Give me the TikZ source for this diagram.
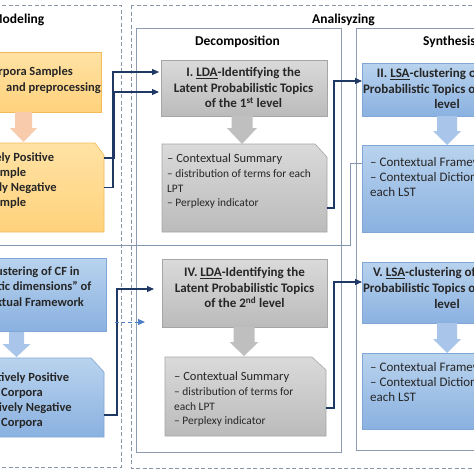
\documentclass[tikz,border=0pt]{standalone}
\usepackage{fontspec}
\setmainfont{Carlito}
\usetikzlibrary{arrows.meta}
\definecolor{navy}{HTML}{203864}
\definecolor{fbline}{HTML}{8497B0}
\definecolor{dashgray}{HTML}{8A95A5}
\definecolor{panelb}{HTML}{8C9BB0}
\definecolor{graytop}{HTML}{DADADA}
\definecolor{graybot}{HTML}{BBBBBB}
\definecolor{graybd}{HTML}{A6A6A6}
\definecolor{bluetop}{HTML}{B9D3EE}
\definecolor{bluebot}{HTML}{8AB1E0}
\definecolor{bluebd}{HTML}{7FA6D6}
\definecolor{orgtop}{HTML}{FFE2A4}
\definecolor{orgbot}{HTML}{FFD27C}
\definecolor{orgbd}{HTML}{F2BB55}
\definecolor{arrgray}{HTML}{BFBFBF}
\definecolor{arrblue}{HTML}{A9C5E9}
\definecolor{arrorg}{HTML}{F8CBAD}
\definecolor{txt}{HTML}{262626}
\definecolor{dashblue}{HTML}{4A7EC8}
% block arrow: style, cx, ytop, yneck, ytip, shaft half width, head half width
\newcommand{\blockarr}[7]{\fill[#1] (#2-#6,#3) -- (#2+#6,#3) -- (#2+#6,#4) -- (#2+#7,#4) -- (#2,#5) -- (#2-#7,#4) -- (#2-#6,#4) -- cycle;}
% document shape with cut north-east corner: style, node, cut x, cut y
\newcommand{\docshape}[4]{\path[#1] (#2.south west) -- (#2.north west) -- ([xshift=-#3pt]#2.north east) -- ([yshift=-#4pt]#2.north east) -- (#2.south east) -- cycle;}
\newcommand{\firstitem}[1]{{\fontsize{12.5}{14.7}\selectfont #1}}
\tikzset{
  frame/.style={inner sep=0pt, outer sep=0pt},
  boxg/.style={frame, draw=graybd, line width=0.6pt, top color=graytop, bottom color=graybot},
  boxb/.style={frame, draw=bluebd, line width=0.6pt, top color=bluetop, bottom color=bluebot},
  boxo/.style={frame, draw=orgbd, line width=0.6pt, top color=orgtop, bottom color=orgbot},
  fillg/.style={draw=graybd, line width=0.6pt, top color=graytop, bottom color=graybot},
  fillb/.style={draw=bluebd, line width=0.6pt, top color=bluetop, bottom color=bluebot},
  fillo/.style={draw=orgbd, line width=0.6pt, top color=orgtop, bottom color=orgbot},
  head/.style={inner sep=0pt, text=txt, align=center, font=\fontsize{13}{15.6}\selectfont\bfseries},
  modtxt/.style={inner sep=0pt, text=txt, align=center, font=\fontsize{12.5}{15.2}\selectfont\bfseries},
  listtxt/.style={inner sep=0pt, text=txt, align=left, font=\fontsize{11.4}{14.7}\selectfont},
  synlist/.style={inner sep=0pt, text=txt, align=left, font=\fontsize{13}{14.7}\selectfont},
  paneltitle/.style={inner sep=0pt, text=black, font=\fontsize{13.5}{16}\selectfont\bfseries},
  outerpanel/.style={draw=dashgray, line width=0.9pt, dash pattern=on 4pt off 2.5pt},
  innerpanel/.style={draw=panelb, line width=0.9pt},
  navyline/.style={draw=navy, line width=1.1pt, -{Triangle[length=7pt,width=6pt]}},
  fb/.style={draw=fbline, line width=0.8pt},
  dashedarrow/.style={draw=dashblue, line width=1pt, dash pattern=on 3.5pt off 3pt, -{Triangle[length=7pt,width=6pt]}}
}
\begin{document}
\begin{tikzpicture}[x=1pt,y=-1pt]
\useasboundingbox (0,0) rectangle (474,474);
\clip (0,0) rectangle (474,474);
\fill[white] (0,0) rectangle (474,474);

% panels
\draw[outerpanel] (-10,5) rectangle (121,467);
\draw[outerpanel] (131,5) rectangle (495,468);
\draw[innerpanel] (136,28) rectangle (341,452);
\draw[innerpanel] (356,28) rectangle (495,450);
\node[paneltitle, anchor=east] (tmod) at (44.5,20) {Modeling};
\node[paneltitle] (tana) at (343.5,20) {Analisyzing};
\node[paneltitle] (tdec) at (237.5,42) {Decomposition};
\node[paneltitle, anchor=west] (tsyn) at (423,42) {Synthesis};

% feedback line
\node[frame, minimum width=138pt, minimum height=87pt] (o2) at (431,188.5) {};
\coordinate (fbend) at (-10,245);
\draw[fb] ([yshift=25.5pt]o2.west) -- ++(-12,0) |- (fbend);

% Modeling column
\node[boxo, minimum width=121pt, minimum height=60pt] (bA) at (40.5,82) {};
\node[modtxt, anchor=east] (tA1) at (73,72) {Corpora Samples};
\node[modtxt, anchor=west] (tA2) at (6,88) {and preprocessing};
\blockarr{arrorg}{23.5}{112}{128}{142}{8.5}{13.5}
\node[frame, minimum width=124pt, minimum height=89pt] (od) at (42,187.5) {};
\docshape{fillo}{od}{9}{12}
\node[modtxt] (tod) at (7,180.5) {Relatively Positive\\Sample\\Relatively Negative\\Sample};

\node[boxb, minimum width=126pt, minimum height=73pt] (bIII) at (43,294.5) {};
\node[modtxt, font=\fontsize{12.5}{15.6}\selectfont\bfseries] (tIII) at (25,286.5) {III. Clustering of CF in\\"semantic dimensions" of\\Contextual Framework};
\blockarr{arrblue}{16.5}{332}{344}{357}{7.5}{14}
\node[frame, minimum width=124pt, minimum height=79pt] (bd) at (42,397.5) {};
\docshape{fillb}{bd}{13}{14}
\node[modtxt] (tbd) at (22,400.5) {Relatively Positive\\Corpora\\Relatively Negative\\Corpora};

% Decomposition column
\node[boxg, minimum width=166pt, minimum height=56pt] (b1) at (244,88) {};
\node[head] (tb1) at (243.5,87.5) {I. \underline{LDA}-Identifying the\\Latent Probabilistic Topics\\of the 1\textsuperscript{st} level};
\blockarr{arrgray}{242}{116}{128}{144}{10.5}{15}
\node[frame, minimum width=165pt, minimum height=88pt] (o1) at (244.5,188) {};
\docshape{fillg}{o1}{12}{13}
\node[listtxt, anchor=west] (to1) at (167,181.5) {\firstitem{– Contextual Summary}\\– distribution of terms for each\\LPT\\– Perplexy indicator};

\node[boxg, minimum width=165pt, minimum height=68pt] (b4) at (244.5,293) {};
\node[head] (tb4) at (244.5,287.5) {IV. \underline{LDA}-Identifying the\\Latent Probabilistic Topics\\of the 2\textsuperscript{nd} level};
\blockarr{arrgray}{244}{327}{342}{356}{10.5}{14.5}
\node[frame, minimum width=161pt, minimum height=79pt] (o4) at (245.5,396.5) {};
\docshape{fillg}{o4}{14}{13}
\node[listtxt, anchor=west] (to4) at (174,399.5) {\firstitem{– Contextual Summary}\\– distribution of terms for\\each LPT\\– Perplexy indicator};

% Synthesis column
\node[boxb, minimum width=138pt, minimum height=53pt] (b2) at (431,89.5) {};
\node[head] (tb2) at (447,88.5) {II. \underline{LSA}-clustering of Latent\\\makebox[168pt][l]{Probabilistic Topics of the 1\textsuperscript{st}}\\level};
\blockarr{arrblue}{447}{116}{131}{145}{10}{14}
\path[fillb] (o2.south west) rectangle (o2.north east);
\node[synlist, anchor=west] (to2) at (370,177) {– Contextual Framework\\– Contextual Dictionaries for\\each LST};

\node[boxb, minimum width=138pt, minimum height=61pt] (b5) at (431,292.5) {};
\node[head] (tb5) at (447,288) {\makebox[148pt][l]{V. \underline{LSA}-clustering of Latent}\\\makebox[168pt][l]{Probabilistic Topics of the 2\textsuperscript{nd}}\\level};
\blockarr{arrblue}{447}{323}{339}{353}{10}{14}
\node[boxb, minimum width=138pt, minimum height=76pt] (o5) at (431,391) {};
\node[synlist, anchor=west] (to5) at (370,382) {– Contextual Framework\\– Contextual Dictionaries for\\each LST};

% connectors
\draw[navyline, shorten >=2pt] ([yshift=29.5pt]od.east) -- ++(10.5,0) |- ([yshift=-4pt]b1.west);
\draw[navyline, shorten >=2pt] (od.east) -- ++(9,0) |- ([yshift=16pt]b1.west);
\draw[navyline] ([yshift=-20pt]o1.east) -- ++(7,0) |- ([yshift=8.5pt]b2.west);
\draw[navyline] ([yshift=-11.5pt]o4.east) -- ++(8,0) |- ([yshift=10.5pt]b5.west);
\draw[navyline, shorten >=8pt] ([yshift=-17.5pt]bd.east) -- ++(13,0) |- ([yshift=4pt]b4.west);
\coordinate (ds) at (115,322);
\coordinate (de) at (145,322);
\draw[dashedarrow] (ds) -- (de);
\end{tikzpicture}
\end{document}
